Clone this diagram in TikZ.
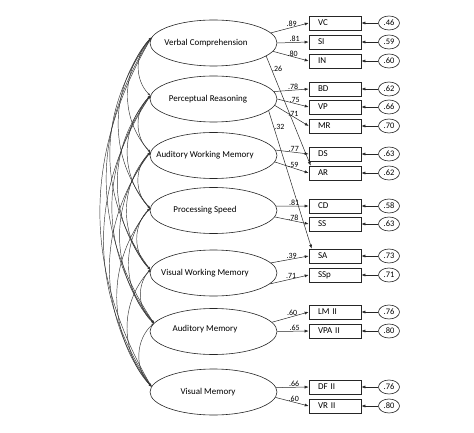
\documentclass[tikz,border=0pt]{standalone}
\usepackage{fontspec}
\setmainfont{Carlito}
\usetikzlibrary{shapes.geometric,arrows.meta}
\begin{document}
\begin{tikzpicture}[x=1bp,y=-1bp,
  factor/.style={ellipse, draw=black!85, line width=0.6bp, minimum width=127bp, minimum height=46bp, inner sep=0pt},
  ftext/.style={font=\fontsize{9}{10}\selectfont, inner sep=0pt},
  ind/.style={rectangle, draw=black!85, line width=0.6bp, minimum height=14bp, text width=34bp, inner xsep=9bp, inner ysep=0pt, align=left, font=\fontsize{9}{10}\selectfont},
  err/.style={ellipse, draw=black!85, line width=0.6bp, minimum width=21bp, minimum height=14bp, inner sep=0pt, font=\fontsize{8.5}{9}\selectfont},
  load/.style={-{Latex[length=4bp,width=3bp]}, line width=0.5bp, draw=black!85},
  lbl/.style={font=\fontsize{8}{9}\selectfont, inner sep=0.3bp, anchor=south},
  cov/.style={{Stealth[length=3bp,width=2bp]}-{Stealth[length=3bp,width=2bp]}, line width=0.45bp, draw=black!80}
]
\useasboundingbox (0,0) rectangle (474,433);

% factors
\node[factor] (vc)  at (213.5,43)  {};
\node[factor] (pr)  at (213.5,99)  {};
\node[factor] (awm) at (213.5,155.5) {};
\node[factor] (ps)  at (213.5,210.5) {};
\node[factor] (vwm) at (213.5,273) {};
\node[factor] (am)  at (213.5,331.5) {};
\node[factor] (vm)  at (213.5,392) {};
\node[ftext] (vctx)  at (206,43)    {Verbal Comprehension};
\node[ftext] (prtx)  at (208,99)    {Perceptual Reasoning};
\node[ftext] (awmtx) at (205,155.5) {Auditory Working Memory};
\node[ftext] (pstx)  at (205,210.5) {Processing Speed};
\node[ftext] (vwmtx) at (205,273)   {Visual Working Memory};
\node[ftext] (amtx)  at (205,329)   {Auditory Memory};
\node[ftext] (vmtx)  at (208,392)   {Visual Memory};

% indicators
\node[ind] (bvc)  at (335,23)  {VC};
\node[ind] (bsi)  at (335,42)  {SI};
\node[ind] (bin)  at (335,61)  {IN};
\node[ind] (bbd)  at (335,89)  {BD};
\node[ind] (bvp)  at (335,107) {VP};
\node[ind] (bmr)  at (335,126) {MR};
\node[ind] (bds)  at (335,154) {DS};
\node[ind] (bar)  at (335,173) {AR};
\node[ind] (bcd)  at (335,206) {CD};
\node[ind] (bss)  at (335,224) {SS};
\node[ind] (bsa)  at (335,256) {SA};
\node[ind] (bssp) at (335,275) {SSp};
\node[ind] (blm)  at (335,312) {LM II};
\node[ind] (bvpa) at (335,331) {VPA II};
\node[ind] (bdf)  at (335,387) {DF II};
\node[ind] (bvr)  at (335,406) {VR II};

% errors
\node[err] (evc)  at (389,23)  {.46};
\node[err] (esi)  at (389,42)  {.59};
\node[err] (ein)  at (389,61)  {.60};
\node[err] (ebd)  at (389,89)  {.62};
\node[err] (evp)  at (389,107) {.66};
\node[err] (emr)  at (389,126) {.70};
\node[err] (eds)  at (389,154) {.63};
\node[err] (ear)  at (389,173) {.62};
\node[err] (ecd)  at (389,206) {.58};
\node[err] (ess)  at (389,224) {.63};
\node[err] (esa)  at (389,256) {.73};
\node[err] (essp) at (389,275) {.71};
\node[err] (elm)  at (389,312) {.76};
\node[err] (evpa) at (389,331) {.80};
\node[err] (edf)  at (389,387) {.76};
\node[err] (evr)  at (389,406) {.80};

\foreach \n in {vc,si,in,bd,vp,mr,ds,ar,cd,ss,sa,ssp,lm,vpa,df,vr}
  \draw[load] (e\n.west) -- (b\n.east);

% loadings
\draw[load] (vc.10) -- node[lbl,pos=0.55] (l1) {.89} (bvc.west);
\draw[load] (vc.0)  -- node[lbl,pos=0.55] (l2) {.81} (bsi.west);
\draw[load] (vc.-8) -- node[lbl,pos=0.55] (l3) {.80} (bin.west);
\draw[load] (pr.7)  -- node[lbl,pos=0.55] (l4) {.78} (bbd.west);
\draw[load] (pr.0)  -- node[lbl,pos=0.55] (l5) {.75} (bvp.west);
\draw[load] (pr.-6) -- node[lbl,pos=0.55] (l6) {.71} (bmr.west);
\draw[load] (awm.5) -- node[lbl,pos=0.55] (l7) {.77} (bds.west);
\draw[load] (awm.-6) -- node[lbl,pos=0.55] (l8) {.59} (bar.west);
\draw[load] (ps.4)  -- node[lbl,pos=0.55] (l9) {.81} (bcd.west);
\draw[load] (ps.-6) -- node[lbl,pos=0.55] (l10) {.78} (bss.west);
\draw[load] (vwm.10) -- node[lbl,pos=0.55] (l11) {.39} (bsa.west);
\draw[load] (vwm.-11) -- node[lbl,pos=0.55] (l12) {.71} (bssp.west);
\draw[load] (am.9)  -- node[lbl,pos=0.55] (l13) {.60} (blm.west);
\draw[load] (am.0)  -- node[lbl,pos=0.55] (l14) {.65} (bvpa.west);
\draw[load] (vm.4)  -- node[lbl,pos=0.55] (l15) {.66} (bdf.west);
\draw[load] (vm.-5) -- node[lbl,pos=0.55] (l16) {.60} (bvr.west);
% cross loadings
\draw[load] (vc.-14) -- node[lbl,pos=0.12,anchor=west] (l17) {.26} ([xshift=2bp]bar.north west);
\draw[load] (pr.-12) -- node[lbl,pos=0.12,anchor=west] (l18) {.32} ([xshift=3bp]bsa.north west);

% covariances
\coordinate (c1) at (vc.175);
\coordinate (c2) at (pr.177);
\coordinate (c3) at (awm.177);
\coordinate (c4) at (ps.178);
\coordinate (c5) at (vwm.177);
\coordinate (c6) at (am.172);
\coordinate (c7) at (vm.175);
\foreach \i in {1,...,6} {
  \pgfmathtruncatemacro\s{\i+1}
  \foreach \j in {\s,...,7} {
    \pgfmathsetmacro\ang{50-3.3*(\j-\i)}
    \draw[cov] (c\i) to[bend right=\ang] (c\j);
  }
}
\end{tikzpicture}
\end{document}
